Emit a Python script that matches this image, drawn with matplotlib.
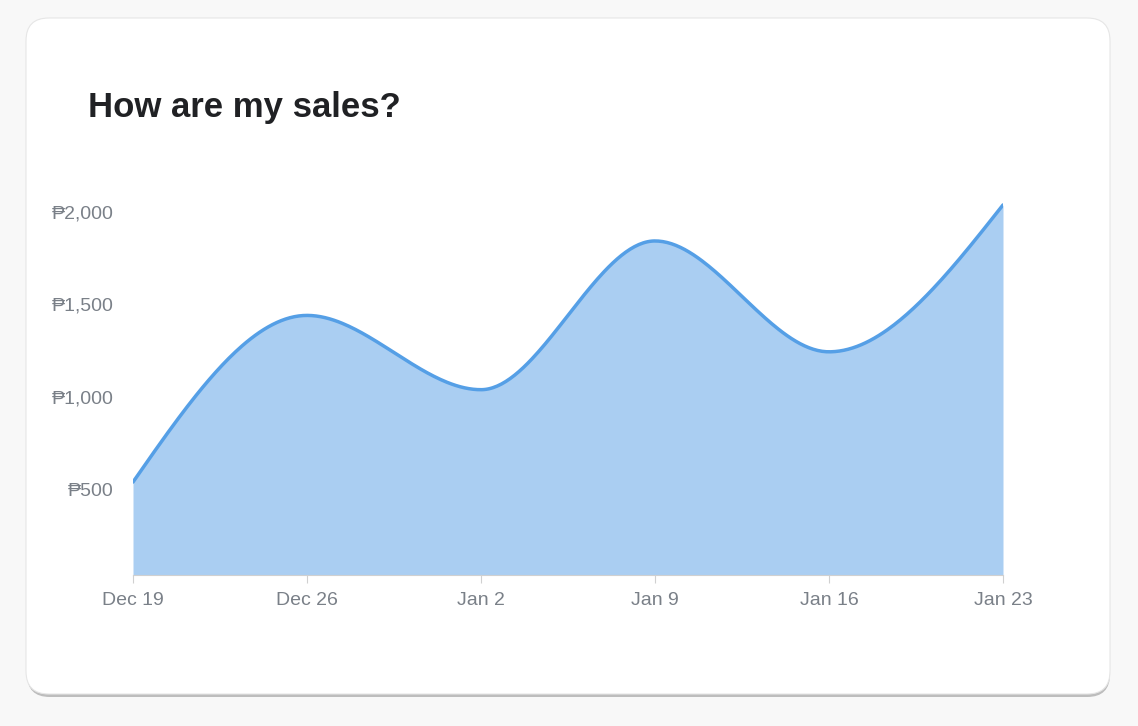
import numpy as np
import matplotlib.pyplot as plt
from matplotlib.patches import FancyBboxPatch

plt.rcParams['font.family'] = ['Liberation Sans', 'DejaVu Sans']

dates = ["Dec 19", "Dec 26", "Jan 2", "Jan 9", "Jan 16", "Jan 23"]
sales = [538, 1440, 1038, 1843, 1243, 2038]
yticks = [500, 1000, 1500, 2000]


def monotone(x, y, n=400):
    # Fritsch-Carlson monotone cubic, like d3 curveMonotoneX
    x = np.asarray(x, float); y = np.asarray(y, float)
    h = np.diff(x); d = np.diff(y) / h
    m = np.zeros_like(y)
    for i in range(1, len(y) - 1):
        if d[i - 1] * d[i] <= 0:
            m[i] = 0
        else:
            m[i] = (h[i - 1] + h[i]) * 3 / ((2 * h[i] + h[i - 1]) / d[i - 1] + (h[i] + 2 * h[i - 1]) / d[i])
    m[0] = (3 * d[0] - m[1]) / 2
    m[-1] = (3 * d[-1] - m[-2]) / 2
    xs = np.linspace(x[0], x[-1], n)
    idx = np.clip(np.searchsorted(x, xs) - 1, 0, len(x) - 2)
    t = (xs - x[idx]) / h[idx]
    h00 = 2 * t**3 - 3 * t**2 + 1; h10 = t**3 - 2 * t**2 + t
    h01 = -2 * t**3 + 3 * t**2; h11 = t**3 - t**2
    ys = h00 * y[idx] + h10 * h[idx] * m[idx] + h01 * y[idx + 1] + h11 * h[idx] * m[idx + 1]
    return xs, ys


fig = plt.figure(figsize=(11.38, 7.26), dpi=100)
fig.patch.set_facecolor('#f8f8f8')
W, H = 1138, 726
shadow = FancyBboxPatch((27 / W, (726 - 697) / H), 1083 / W, 676 / H,
                        boxstyle="round,pad=0,rounding_size=0.02", transform=fig.transFigure,
                        facecolor='#bdbdbd', edgecolor='none', mutation_aspect=W / H, zorder=-2)
card = FancyBboxPatch((26 / W, (726 - 694) / H), 1084 / W, 676 / H,
                      boxstyle="round,pad=0,rounding_size=0.02", transform=fig.transFigure,
                      facecolor='white', edgecolor='#e6e6e6', linewidth=0.8, mutation_aspect=W / H,
                      zorder=-1)
fig.patches.extend([shadow, card])

fig.text(88 / W, 1 - 117 / H, "How are my sales?", fontsize=25, fontweight='bold',
         color='#202124', va='baseline')

ax = fig.add_axes([133 / W, 151 / H, 870 / W, 400 / H])
ax.set_facecolor('none')
x = np.arange(len(dates))
xs, ys = monotone(x, sales)
ax.fill_between(xs, 35, ys, color='#aacef2', linewidth=0)
ax.plot(xs, ys, color='#559fe6', linewidth=2.5, solid_capstyle='round')
ax.set_xlim(0, len(dates) - 1)
ax.set_ylim(35, 2200)
ax.set_xticks(x, dates)
ax.set_yticks(yticks, [f"₱{v:,}" for v in yticks])
for s in ax.spines.values():
    s.set_visible(False)
ax.spines['bottom'].set_visible(True)
ax.spines['bottom'].set_color('#d0d0d0')
ax.tick_params(axis='x', length=6, color='#d0d0d0', labelsize=14, labelcolor='#7a8088', pad=6)
ax.tick_params(axis='y', length=0, labelsize=14, labelcolor='#7a8088', pad=14)

fig.savefig('out.png', dpi=100, facecolor=fig.get_facecolor())
